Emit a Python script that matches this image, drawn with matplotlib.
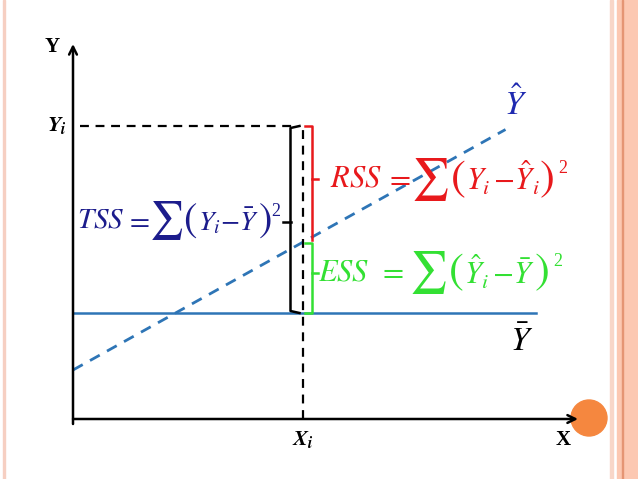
import numpy as np
import matplotlib.pyplot as plt
from matplotlib.patches import Rectangle, Circle

plt.rcParams['mathtext.fontset'] = 'stix'
plt.rcParams['font.family'] = 'Liberation Serif'

# diagram values (data units)
x_end = 10.1          # length of x axis
y_top = 7.5           # length of y axis
x_i = 4.6             # the observation
y_i = 5.86
y_bar = 2.12          # mean of Y
b0, b1 = 0.98, 0.556  # fitted line  Y_hat = b0 + b1*X
fit_x = [0.0, 8.65]
mean_x = [0.0, 9.25]

y_hat_i = b0 + b1 * x_i

BLUE = '#2e75b6'
NAVY = '#1c1c8c'
RED = '#e8191c'
GREEN = '#33e033'

fig = plt.figure(figsize=(6.38, 4.79), dpi=100)

# slide decoration
deco = fig.add_axes([0, 0, 1, 1])
deco.set_xlim(0, 638)
deco.set_ylim(479, 0)
deco.axis('off')
deco.add_patch(Rectangle((3, 0), 2, 479, color='#f6cfc2'))
deco.add_patch(Rectangle((610, 0), 3, 479, color='#f8d6c8'))
deco.add_patch(Rectangle((617, 0), 21, 479, color='#fcc8b2'))
deco.add_patch(Rectangle((621.5, 0), 1.5, 479, color='#e59574'))
deco.add_patch(Circle((589, 418), 18, color='#f5873f', zorder=1))

# the diagram (1 unit = 50 px, origin at pixel 73,419)
ax = fig.add_axes([73 / 638, 60 / 479, 550 / 638, 400 / 479])
ax.set_zorder(2)
ax.set_xlim(0, 11)
ax.set_ylim(0, 8)
ax.axis('off')


def formula(x, y, pieces, color):
    # pieces: (text, fontsize, gap in points); each one placed after the previous
    t = ax.text(x, y, pieces[0][0], fontsize=pieces[0][1], color=color,
                va='center', ha='left')
    for s, fs, gap in pieces[1:]:
        if s == '2':
            t = ax.annotate(s, xy=(1, 0.97), xycoords=t, xytext=(gap, 0),
                            textcoords='offset points', fontsize=fs, color=color,
                            va='top', ha='left')
        else:
            t = ax.annotate(s, xy=(1, 0.5), xycoords=t, xytext=(gap, 0),
                            textcoords='offset points', fontsize=fs, color=color,
                            va='center', ha='left')


# axes with arrows
ax.annotate('', xy=(x_end, 0), xytext=(0, 0),
            arrowprops=dict(arrowstyle='->', lw=1.8, color='black', mutation_scale=14,
                            shrinkA=0, shrinkB=0), zorder=5)
ax.annotate('', xy=(0, y_top), xytext=(0, -0.1),
            arrowprops=dict(arrowstyle='->', lw=1.8, color='black', mutation_scale=14,
                            shrinkA=0, shrinkB=0), zorder=5)

# mean line and fitted line
ax.plot(mean_x, [y_bar, y_bar], color=BLUE, lw=1.8)
fx = np.array(fit_x)
ax.plot(fx, b0 + b1 * fx, color=BLUE, lw=2, ls=(0, (4, 3)))

# guide lines
ax.plot([0.14, x_i - 0.17], [y_i, y_i], color='black', lw=1.6, ls=(0, (4, 3)))
ax.plot([x_i, x_i], [0, y_i], color='black', lw=1.6, ls=(0, (4, 3)))

# TSS brace (black)
bx = x_i - 0.25
tip = (y_i + y_bar) / 2 - 0.05
ax.plot([bx + 0.18, bx, bx, bx + 0.18], [y_i, y_i - 0.04, y_bar + 0.04, y_bar],
        color='black', lw=1.8)
ax.plot([bx - 0.16, bx], [tip, tip], color='black', lw=1.8)

# RSS bracket (red)
rx = x_i + 0.17
ax.plot([x_i + 0.04, rx, rx], [y_i, y_i, y_hat_i + 0.04], color=RED, lw=1.8)
rt = (y_i + y_hat_i) / 2 + 0.1
ax.plot([rx, rx + 0.12], [rt, rt], color=RED, lw=1.8)

# ESS bracket (green)
gx = x_i + 0.18
ax.plot([x_i + 0.04, gx, gx, x_i + 0.04], [y_hat_i - 0.02, y_hat_i - 0.02, y_bar, y_bar],
        color=GREEN, lw=1.8)
gt = (y_hat_i + y_bar) / 2 + 0.1
ax.plot([gx, gx + 0.12], [gt, gt], color=GREEN, lw=1.8)

# formulas
formula(0.08, tip + 0.02, [
    (r'$TSS$', 21, 0), (r'$=$', 21, 0), (r'$\sum$', 27, 0), (r'$($', 29, 0),
    (r'$Y_i{-}\bar{Y}$', 20, 0), (r'$)$', 29, 0), ('2', 13, 0)], NAVY)
formula(x_i + 0.55, rt, [
    (r'$RSS$', 22, 0), (r'$=$', 22, 2), (r'$\sum$', 30, 0), (r'$($', 32, 1),
    (r'$Y_i\,{-}\hat{Y}_i$', 22, 0), (r'$)$', 32, 0), ('2', 13, 3)], RED)
formula(x_i + 0.3, gt, [
    (r'$ESS$', 22, 0), (r'$=$', 22, 6), (r'$\sum$', 30, 4), (r'$($', 32, 1),
    (r'$\hat{Y}_i\,{-}\bar{Y}$', 22, 0), (r'$)$', 32, 0), ('2', 13, 3)], GREEN)

# labels
ax.text(-0.42, 7.44, 'Y', fontsize=15, fontweight='bold', ha='center', va='center')
ax.text(-0.32, y_i, r'$\mathbfit{Y}_{\mathbfit{i}}$', fontsize=16, ha='center', va='center')
ax.text(x_i, -0.42, r'$\mathbfit{X}_{\mathbfit{i}}$', fontsize=16, ha='center', va='center')
ax.text(x_end - 0.3, -0.42, 'X', fontsize=15, fontweight='bold', ha='center', va='center')
ax.text(8.85, 6.3, r'$\hat{Y}$', fontsize=24, color='#1f2ab0', ha='center', va='center')
ax.text(8.98, 1.55, r'$\bar{Y}$', fontsize=24, color='black', ha='center', va='center')

fig.savefig('out.png', dpi=100)
